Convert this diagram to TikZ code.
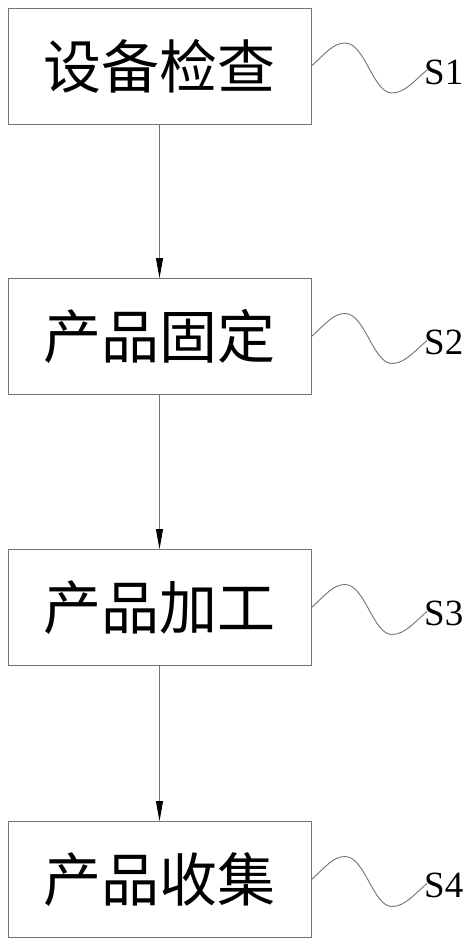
\documentclass[tikz,border=0pt]{standalone}
\usepackage{fontspec}
\setmainfont{Liberation Serif}
\newfontfamily\cjk{Noto Sans CJK SC}
\usetikzlibrary{arrows.meta}
\definecolor{linegray}{gray}{0.45}
\begin{document}
\begin{tikzpicture}[x=1pt,y=-1pt,
  stepbox/.style={draw=linegray,line width=1pt,minimum width=303pt,minimum height=116pt,inner sep=0pt,font=\cjk\fontsize{58}{62}\selectfont},
  lbl/.style={inner sep=0pt,anchor=west,font=\fontsize{37}{42}\selectfont},
  flow/.style={draw=linegray,line width=0.9pt,-{Triangle[length=20pt,width=7pt,black]}},
  squig/.style={draw=linegray,line width=0.9pt}]
\useasboundingbox (0,0) rectangle (474,948);
\fill[white] (0,0) rectangle (474,948);
\node[stepbox] (b1) at (159.5,66) {\raisebox{3pt}{设备检查}};
\node[stepbox] (b2) at (159.5,336.5) {\raisebox{3pt}{产品固定}};
\node[stepbox] (b3) at (159.5,607.5) {\raisebox{3pt}{产品加工}};
\node[stepbox] (b4) at (159.5,879.5) {\raisebox{3pt}{产品收集}};
\draw[flow] (b1) -- (b2);
\draw[flow] (b2) -- (b3);
\draw[flow] (b3) -- (b4);
\foreach \b/\t/\s in {b1/8/S1,b2/278.5/S2,b3/549.5/S3,b4/821.5/S4}{
  \node[lbl] (l\b) at (424,\t+64) {\s};
  \coordinate (e\b) at (427,\t+62);
  \draw[squig] (\b.east) .. controls (325,\t+46) and (333,\t+35) .. (345,\t+35)
     .. controls (365,\t+35) and (373,\t+85) .. (392,\t+85)
     .. controls (405,\t+85) and (415,\t+72) .. (e\b);
}
\end{tikzpicture}
\end{document}
